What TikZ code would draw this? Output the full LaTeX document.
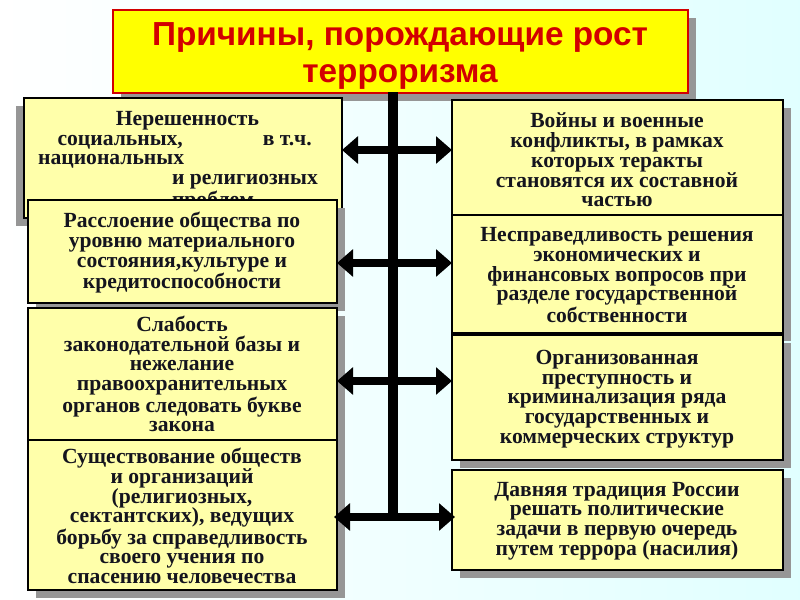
\documentclass[tikz,border=0pt]{standalone}
\usepackage{fontspec}
\setmainfont{Liberation Serif}
\newfontfamily\hd{Liberation Sans}
\usetikzlibrary{arrows.meta}
\definecolor{bx}{RGB}{255,255,170}
\definecolor{ti}{RGB}{255,255,0}
\definecolor{tr}{RGB}{210,0,0}
\definecolor{sh}{RGB}{150,150,150}
\definecolor{tx}{RGB}{20,20,30}
\tikzset{x=0.75pt,y=-0.75pt,
 box/.style={fill=bx,draw=black,line width=1.5pt},
 shd/.style={fill=sh},
 txt/.style={font=\bfseries\fontsize{16.2}{14.8}\selectfont,text=tx,align=center,anchor=center,inner sep=0pt},
 arr/.style={line width=6.5pt,{Triangle[length=12pt,width=20pt]}-{Triangle[length=12pt,width=20pt]}}}
\begin{document}
\begin{tikzpicture}
\useasboundingbox (0,0) rectangle (800,600);
\shade[left color=white,right color=cyan!12] (0,0) rectangle (800,600);
% title
\fill[sh] (121,18) rectangle (696,101);
\draw[fill=ti,draw=tr,line width=1.5pt] (113,10) rectangle (688,93);
\node[font=\hd\bfseries\fontsize{25}{28}\selectfont,text=tr,align=center] (t) at (400,56) {Причины, порождающие рост\\терроризма};
% spine
\coordinate (s0) at (393,92);
\coordinate (s1) at (393,517);
\draw[line width=7pt] (s0) -- (s1);
% left boxes
\fill[shd] (16,106) rectangle (334,226);
\draw[box] (24,98) rectangle (342,218);
\begin{scope}
\clip (24,98) rectangle (342,218);
\node[txt,align=left] (L1) at (178,161) {\hspace*{3.6em}Нерешенность\\ \hspace*{0.9em}социальных, \hspace{3.2em} в т.ч.\\национальных\\ \hspace*{6.2em}и религиозных\\ \hspace*{6.2em}проблем};
\end{scope}
\fill[shd] (36,208) rectangle (345,311);
\draw[box] (28,200) rectangle (337,303);
\node[txt] (L2) at (182,253) {Расслоение общества по\\уровню материального\\состояния,культуре и\\кредитоспособности};
\fill[shd] (36,316) rectangle (345,448);
\draw[box] (28,308) rectangle (337,440);
\node[txt] (L3) at (182,374) {Слабость\\законодательной базы и\\нежелание\\правоохранительных\\органов следовать букве\\закона};
\fill[shd] (36,448) rectangle (345,598);
\draw[box] (28,440) rectangle (337,590);
\node[txt] (L4) at (182,516) {Существование обществ\\и организаций\\(религиозных,\\сектантских), ведущих\\борьбу за справедливость\\своего учения по\\спасению человечества};
% right boxes
\fill[shd] (460,108) rectangle (791,223);
\draw[box] (452,100) rectangle (783,215);
\node[txt] (R1) at (617,160) {Войны и военные\\конфликты, в рамках\\которых теракты\\становятся их составной\\частью};
\fill[shd] (460,223) rectangle (791,341);
\draw[box] (452,215) rectangle (783,333);
\node[txt] (R2) at (617,275) {Несправедливость решения\\экономических и\\финансовых вопросов при\\разделе государственной\\собственности};
\fill[shd] (460,343) rectangle (791,468);
\draw[box] (452,335) rectangle (783,460);
\node[txt] (R3) at (617,399) {Организованная\\преступность и\\криминализация ряда\\государственных и\\коммерческих структур};
\fill[shd] (460,478) rectangle (791,578);
\draw[box] (452,470) rectangle (783,570);
\node[txt] (R4) at (617,521) {Давняя традиция России\\решать политические\\задачи в первую очередь\\путем террора (насилия)};
% arrows
\coordinate (a1l) at (342,150); \coordinate (a1r) at (452,150);
\coordinate (a2l) at (337,263); \coordinate (a2r) at (452,263);
\coordinate (a3l) at (337,381); \coordinate (a3r) at (452,381);
\coordinate (a4l) at (334,517); \coordinate (a4r) at (455,517);
\foreach \i in {1,2,3,4}{\draw[arr] (a\i l) -- (a\i r);}
\end{tikzpicture}
\end{document}
